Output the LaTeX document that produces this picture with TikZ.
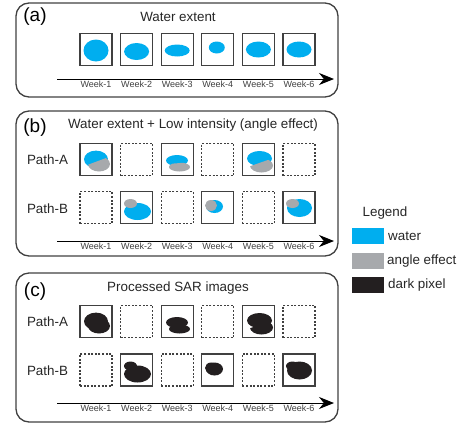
\documentclass[tikz,border=0pt]{standalone}
\usepackage{fontspec}
\setmainfont{Liberation Sans}
\usetikzlibrary{arrows.meta}

\definecolor{waterblue}{HTML}{00AEEF}
\definecolor{anglegray}{HTML}{A7A9AC}
\definecolor{darkpix}{HTML}{231F20}

\tikzset{
  panel/.style={draw=black!75, line width=1.3pt, rounded corners=13pt},
  imgbox/.style={draw=black!75, line width=1.2pt, minimum size=32pt, inner sep=0pt},
  gapbox/.style={imgbox, dash pattern=on 2pt off 1.6pt},
  weekarrow/.style={-{Stealth[length=15pt,width=12pt]}, line width=1pt},
  weeklabel/.style={font=\fontsize{9}{10}\selectfont, text=black!75, inner sep=0pt},
  title/.style={font=\fontsize{13.4}{15}\selectfont, text=black!85},
  tag/.style={font=\fontsize{19}{21}\selectfont},
}

% box x / blue dx/dy/rx/ry / gray dx/dy/rx/ry / gray top edge left,right
\newcommand\rowAblobs{96/0/-0.2/12/8.7/3/4.5/11/7.5/8.2/-3.7,
  177.2/-0.2/1/11/5.5/2.3/7.5/10.5/4.5/5/2.5,
  258.4/1.1/-1/12.5/7.5/3.1/6/11.5/7/9.4/-1.8}
% box x / blue dx/dy/rx/ry / gray dx/dy/rx/ry
\newcommand\rowBblobs{136.6/0.9/4/13.5/8.5/-6.1/-4/6.5/4.5,
  217.8/-3.3/-1/8.5/6.5/-6.8/-2/6/5.5,
  299/0.5/0.5/12.5/9/-6.5/-4/6.5/4.5}

\begin{document}
\begin{tikzpicture}[x=1pt, y=-1pt]
\useasboundingbox (0,0) rectangle (474,440);

% (a) water extent
\draw[panel] (16,3) rectangle (338,97);
\node[tag] (taga) at (35,17) {(a)};
\node[title] (titlea) at (178,17) {Water extent};
\foreach \i/\xx in {1/96,2/136.6,3/177.2,4/217.8,5/258.4,6/299}
  \node[imgbox] (a\i) at (\xx,49.5) {};
\foreach \xx/\dx/\dy/\rx/\ry in {96/0/1/12.5/11, 136.6/0/2/12.5/8.5, 177.2/0/1/12.5/6,
    217.8/-1/-2/8/6, 258.4/0/0/12.5/8, 299/0/0/12.5/8}
  \fill[waterblue] (\xx+\dx,49.5+\dy) ellipse [x radius=\rx, y radius=\ry];
\coordinate (a-start) at (57,79);
\coordinate (a-end) at (334,79);
\draw[weekarrow] (a-start) -- (a-end);
\foreach \i/\xx in {1/96,2/136.6,3/177.2,4/217.8,5/258.4,6/299}
  \node[weeklabel] (aw\i) at (\xx,84) {Week-\i};

% (b) water extent + low intensity
\draw[panel] (16,111) rectangle (338,256);
\node[tag] (tagb) at (35,128) {(b)};
\node[title] (titleb) at (193,125) {Water extent + Low intensity (angle effect)};
\node[title] (bpa) at (47.5,160) {Path-A};
\node[title] (bpb) at (47.5,209) {Path-B};
\foreach \i/\xx/\sa/\sb in {1/96/imgbox/gapbox,2/136.6/gapbox/imgbox,3/177.2/imgbox/gapbox,
    4/217.8/gapbox/imgbox,5/258.4/imgbox/gapbox,6/299/gapbox/imgbox}
  {
    \node[\sa] (bA\i) at (\xx,159.5) {};
    \node[\sb] (bB\i) at (\xx,207.5) {};
  }
\foreach \xx/\bx/\by/\brx/\bry/\gx/\gy/\grx/\gry/\cl/\cr in \rowAblobs
  {
    \fill[waterblue] (\xx+\bx,159.5+\by) ellipse [x radius=\brx, y radius=\bry];
    \begin{scope}
      \clip (\xx-16,159.5+\cl) -- (\xx+16,159.5+\cr) -- (\xx+16,176) -- (\xx-16,176) -- cycle;
      \fill[anglegray] (\xx+\gx,159.5+\gy) ellipse [x radius=\grx, y radius=\gry];
    \end{scope}
  }
\foreach \xx/\bx/\by/\brx/\bry/\gx/\gy/\grx/\gry in \rowBblobs
  {
    \fill[waterblue] (\xx+\bx,207.5+\by) ellipse [x radius=\brx, y radius=\bry];
    \fill[anglegray] (\xx+\gx,207.5+\gy) ellipse [x radius=\grx, y radius=\gry];
  }
\coordinate (b-start) at (57,241);
\coordinate (b-end) at (334,241);
\draw[weekarrow] (b-start) -- (b-end);
\foreach \i/\xx in {1/96,2/136.6,3/177.2,4/217.8,5/258.4,6/299}
  \node[weeklabel] (bw\i) at (\xx,246) {Week-\i};

% (c) processed SAR images
\draw[panel] (16,273) rectangle (338,422);
\node[tag] (tagc) at (35,292) {(c)};
\node[title] (titlec) at (178,288) {Processed SAR images};
\node[title] (cpa) at (47.5,322) {Path-A};
\node[title] (cpb) at (47.5,371) {Path-B};
\foreach \i/\xx/\sa/\sb in {1/96/imgbox/gapbox,2/136.6/gapbox/imgbox,3/177.2/imgbox/gapbox,
    4/217.8/gapbox/imgbox,5/258.4/imgbox/gapbox,6/299/gapbox/imgbox}
  {
    \node[\sa] (cA\i) at (\xx,321.5) {};
    \node[\sb] (cB\i) at (\xx,370) {};
  }
\foreach \xx/\bx/\by/\brx/\bry/\gx/\gy/\grx/\gry/\cl/\cr in \rowAblobs
  {
    \fill[darkpix] (\xx+\bx,321.5+\by) ellipse [x radius=\brx, y radius=\bry];
    \begin{scope}
      \clip (\xx-16,321.5+\cl) -- (\xx+16,321.5+\cr) -- (\xx+16,338) -- (\xx-16,338) -- cycle;
      \fill[darkpix] (\xx+\gx,321.5+\gy) ellipse [x radius=\grx, y radius=\gry];
    \end{scope}
  }
\foreach \xx/\bx/\by/\brx/\bry/\gx/\gy/\grx/\gry in \rowBblobs
  {
    \fill[darkpix] (\xx+\bx,370+\by) ellipse [x radius=\brx, y radius=\bry];
    \fill[darkpix] (\xx+\gx,370+\gy) ellipse [x radius=\grx, y radius=\gry];
  }
\coordinate (c-start) at (57,403);
\coordinate (c-end) at (334,403);
\draw[weekarrow] (c-start) -- (c-end);
\foreach \i/\xx in {1/96,2/136.6,3/177.2,4/217.8,5/258.4,6/299}
  \node[weeklabel] (cw\i) at (\xx,408.5) {Week-\i};

% legend
\node[title] (legend) at (385,213) {Legend};
\fill[waterblue] (352,228) rectangle (384,244);
\fill[anglegray] (352,253) rectangle (384,269);
\fill[darkpix] (352,277) rectangle (384,293);
\node[title, anchor=west, inner sep=0pt] (lwater) at (388,236) {water};
\node[title, anchor=west, inner sep=0pt] (langle) at (387,261) {angle effect};
\node[title, anchor=west, inner sep=0pt] (ldark) at (388,285) {dark pixel};
\end{tikzpicture}
\end{document}
